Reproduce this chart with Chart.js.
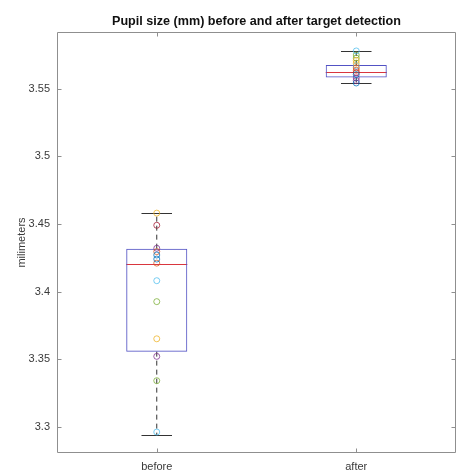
<!DOCTYPE html>
<html>
<head>
<meta charset="utf-8">
<script src="https://cdn.jsdelivr.net/npm/chart.js@4/dist/chart.umd.min.js"></script>
<style>
  html, body { margin: 0; padding: 0; background: #fff; }
  #wrap { width: 474px; height: 474px; }
</style>
</head>
<body>
<div id="wrap"><canvas id="chart"></canvas></div>
<script>
/** DATA */
const categories = ["before", "after"];

// box statistics per category
const whiskerLow = [3.2939, 3.5543];
const quartile1 = [3.3555, 3.5583];
const medians = [3.4206, 3.5626];
const quartile3 = [3.4317, 3.5676];
const whiskerHigh = [3.4580, 3.5780];

// one value per subject, before / after
const beforeValues = [3.427, 3.4295, 3.458, 3.432, 3.3925, 3.408, 3.449, 3.424, 3.421, 3.365, 3.352, 3.334, 3.2960];
const afterValues = [3.5605, 3.5637, 3.5710, 3.5580, 3.5727, 3.5780, 3.5620, 3.5543, 3.5655, 3.5690, 3.5560, 3.5750, 3.5670];

const yTicks = [3.3, 3.35, 3.4, 3.45, 3.5, 3.55];
const yMin = 3.2805;
const yMax = 3.592;

const subjectColors = ['rgba(0,114,189,0.75)', 'rgba(217,83,25,0.75)', 'rgba(237,177,32,0.75)',
    'rgba(126,47,142,0.75)', 'rgba(119,172,48,0.75)', 'rgba(77,190,238,0.75)', 'rgba(162,20,47,0.75)'];

/** PLUGIN: whiskers, median, axes box and inner ticks (matlab look) */
const boxPlotExtras = {
    id: 'boxPlotExtras',
    beforeDatasetsDraw(chart) {
        const ctx = chart.ctx;
        const y = chart.scales.y;
        const bars = chart.getDatasetMeta(0).data;

        ctx.save();
        for (let i = 0; i < bars.length; i++) {
            const cx = bars[i].x;
            const half = bars[i].width / 2;
            const cap = bars[i].width / 4;

            // dashed whiskers
            ctx.strokeStyle = '#333';
            ctx.lineWidth = 1;
            ctx.setLineDash([5, 4]);
            ctx.beginPath();
            ctx.moveTo(cx, y.getPixelForValue(quartile3[i]));
            ctx.lineTo(cx, y.getPixelForValue(whiskerHigh[i]));
            ctx.moveTo(cx, y.getPixelForValue(quartile1[i]));
            ctx.lineTo(cx, y.getPixelForValue(whiskerLow[i]));
            ctx.stroke();

            // caps
            ctx.setLineDash([]);
            ctx.beginPath();
            const yh = Math.round(y.getPixelForValue(whiskerHigh[i])) + 0.5;
            const yl = Math.round(y.getPixelForValue(whiskerLow[i])) + 0.5;
            ctx.moveTo(cx - cap, yh);
            ctx.lineTo(cx + cap, yh);
            ctx.moveTo(cx - cap, yl);
            ctx.lineTo(cx + cap, yl);
            ctx.stroke();

            // median
            ctx.strokeStyle = '#d9363e';
            ctx.beginPath();
            const ym = Math.round(y.getPixelForValue(medians[i])) + 0.5;
            ctx.moveTo(cx - half, ym);
            ctx.lineTo(cx + half, ym);
            ctx.stroke();
        }
        ctx.restore();
    },
    afterDraw(chart) {
        const ctx = chart.ctx;
        const a = chart.chartArea;
        const x = chart.scales.x;
        const y = chart.scales.y;
        const len = 4;

        ctx.save();
        ctx.strokeStyle = '#8f8f8f';
        ctx.lineWidth = 1;
        ctx.beginPath();
        const l = Math.round(a.left) + 0.5, r = Math.round(a.right) - 0.5;
        const t = Math.round(a.top) + 0.5, b = Math.round(a.bottom) - 0.5;
        ctx.rect(l, t, r - l, b - t);

        // inner ticks on all four sides
        yTicks.forEach(function (v) {
            const py = Math.round(y.getPixelForValue(v)) + 0.5;
            ctx.moveTo(l, py);
            ctx.lineTo(l + len, py);
            ctx.moveTo(r, py);
            ctx.lineTo(r - len, py);
        });
        categories.forEach(function (c, i) {
            const px = Math.round(x.getPixelForValue(i)) + 0.5;
            ctx.moveTo(px, b);
            ctx.lineTo(px, b - len);
            ctx.moveTo(px, t);
            ctx.lineTo(px, t + len);
        });
        ctx.stroke();
        ctx.restore();
    }
};

/** DATASETS */
const datasets = [{
    type: 'bar',
    label: 'box',
    data: categories.map((c, i) => [quartile1[i], quartile3[i]]),
    backgroundColor: 'rgba(0,0,0,0)',
    borderColor: '#5252c4',
    borderWidth: 1,
    borderSkipped: false,
    barPercentage: 0.306,
    categoryPercentage: 1,
    order: 2
}];

for (let s = 0; s < beforeValues.length; s++) {
    datasets.push({
        type: 'line',
        label: 'subject ' + (s + 1),
        data: [beforeValues[s], afterValues[s]],
        showLine: false,
        pointRadius: 3,
        pointBorderWidth: 1,
        pointBackgroundColor: 'rgba(0,0,0,0)',
        pointBorderColor: subjectColors[s % subjectColors.length],
        order: 1
    });
}

Chart.defaults.font.family = '"Liberation Sans", Arial, Helvetica, sans-serif';
Chart.defaults.color = '#3a3a3a';

new Chart(document.getElementById('chart'), {
    data: { labels: categories, datasets: datasets },
    options: {
        responsive: true,
        maintainAspectRatio: false,
        animation: false,
        layout: { padding: { left: 0, right: 18, top: 0, bottom: 0 } },
        plugins: {
            legend: { display: false },
            tooltip: { enabled: false },
            title: {
                display: true,
                fullSize: false,
                text: 'Pupil size (mm) before and after target detection',
                color: '#111',
                font: { size: 12.6, weight: 'bold' },
                padding: { top: 14.4, bottom: 2.5 }
            }
        },
        scales: {
            x: {
                type: 'category',
                offset: true,
                grid: { display: false, drawTicks: false },
                border: { display: false },
                ticks: { padding: 7, font: { size: 11 }, color: '#3a3a3a' },
                afterFit: function (scale) { scale.height = 21; }
            },
            y: {
                type: 'linear',
                min: yMin,
                max: yMax,
                grid: { display: false, drawTicks: false },
                border: { display: false },
                ticks: {
                    padding: 7,
                    font: { size: 11 },
                    color: '#3a3a3a',
                    includeBounds: false,
                    callback: v => String(+v.toFixed(2))
                },
                afterBuildTicks: function (scale) {
                    scale.ticks = yTicks.map(v => ({ value: v }));
                },
                title: {
                    display: true,
                    text: 'milimeters',
                    font: { size: 11 },
                    color: '#3a3a3a',
                    padding: { top: 15, bottom: 0 }
                },
                afterFit: function (scale) { scale.width = 57; }
            }
        }
    },
    plugins: [boxPlotExtras]
});
</script>
</body>
</html>
